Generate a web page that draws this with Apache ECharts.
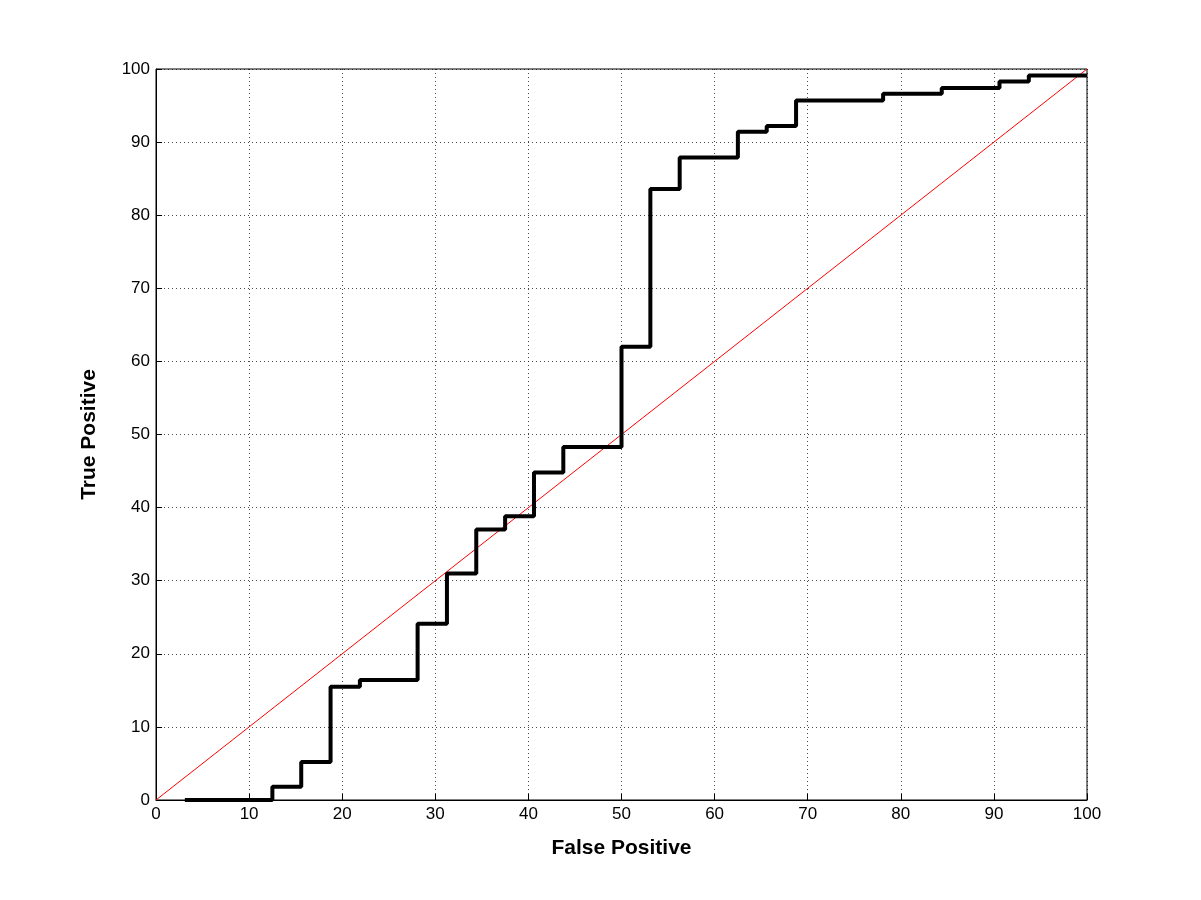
<!DOCTYPE html>
<html><head><meta charset="utf-8">
<script src="https://cdn.jsdelivr.net/npm/echarts@6/dist/echarts.min.js"></script>
<style>html,body{margin:0;background:#fff}#c{width:1201px;height:900px}</style>
</head><body><div id="c"></div>
<script>
const fpr = [3.1, 12.5, 15.6, 18.75, 21.9, 28.1, 31.25, 34.4, 37.5, 40.6, 43.75, 50, 53.1, 56.25, 62.5, 65.6, 68.75, 78.1, 84.4, 90.6, 93.75, 100];
const tpr = [0, 1.8, 5.2, 15.5, 16.4, 24.1, 31, 37, 38.8, 44.8, 48.3, 62, 83.6, 87.9, 91.4, 92.2, 95.7, 96.6, 97.4, 98.3, 99.1, 99.1];
const diag = [[0,0],[100,100]];
const chart = echarts.init(document.getElementById('c'));
const ax = (name, gap) => ({
  type:'value', min:0, max:100, interval:10, name, nameLocation:'middle', nameGap:gap,
  nameTextStyle:{fontFamily:'Liberation Sans', fontWeight:'bold', fontSize:21, color:'#000'},
  axisLine:{show:true, lineStyle:{color:'#000', width:1}},
  axisTick:{show:true, inside:true, length:6, lineStyle:{color:'#000'}},
  axisLabel:{fontFamily:'Liberation Sans', fontSize:17, color:'#000', margin:6},
  splitLine:{show:true, lineStyle:{color:'#000', type:[1,3], width:1, opacity:0.7}}
});
chart.setOption({
  animation:false,
  grid:{left:156, right:114, top:69, bottom:100, show:true, borderColor:'#000', borderWidth:1},
  xAxis: ax('False Positive', 38),
  yAxis: ax('True Positive', 56),
  series:[
    {type:'line', data:diag, symbol:'none', lineStyle:{color:'#ff0000', width:1}},
    {type:'line', step:'end', data:fpr.map((x,i)=>[x,tpr[i]]), symbol:'none', lineStyle:{color:'#000', width:4}}
  ]
});
</script></body></html>
